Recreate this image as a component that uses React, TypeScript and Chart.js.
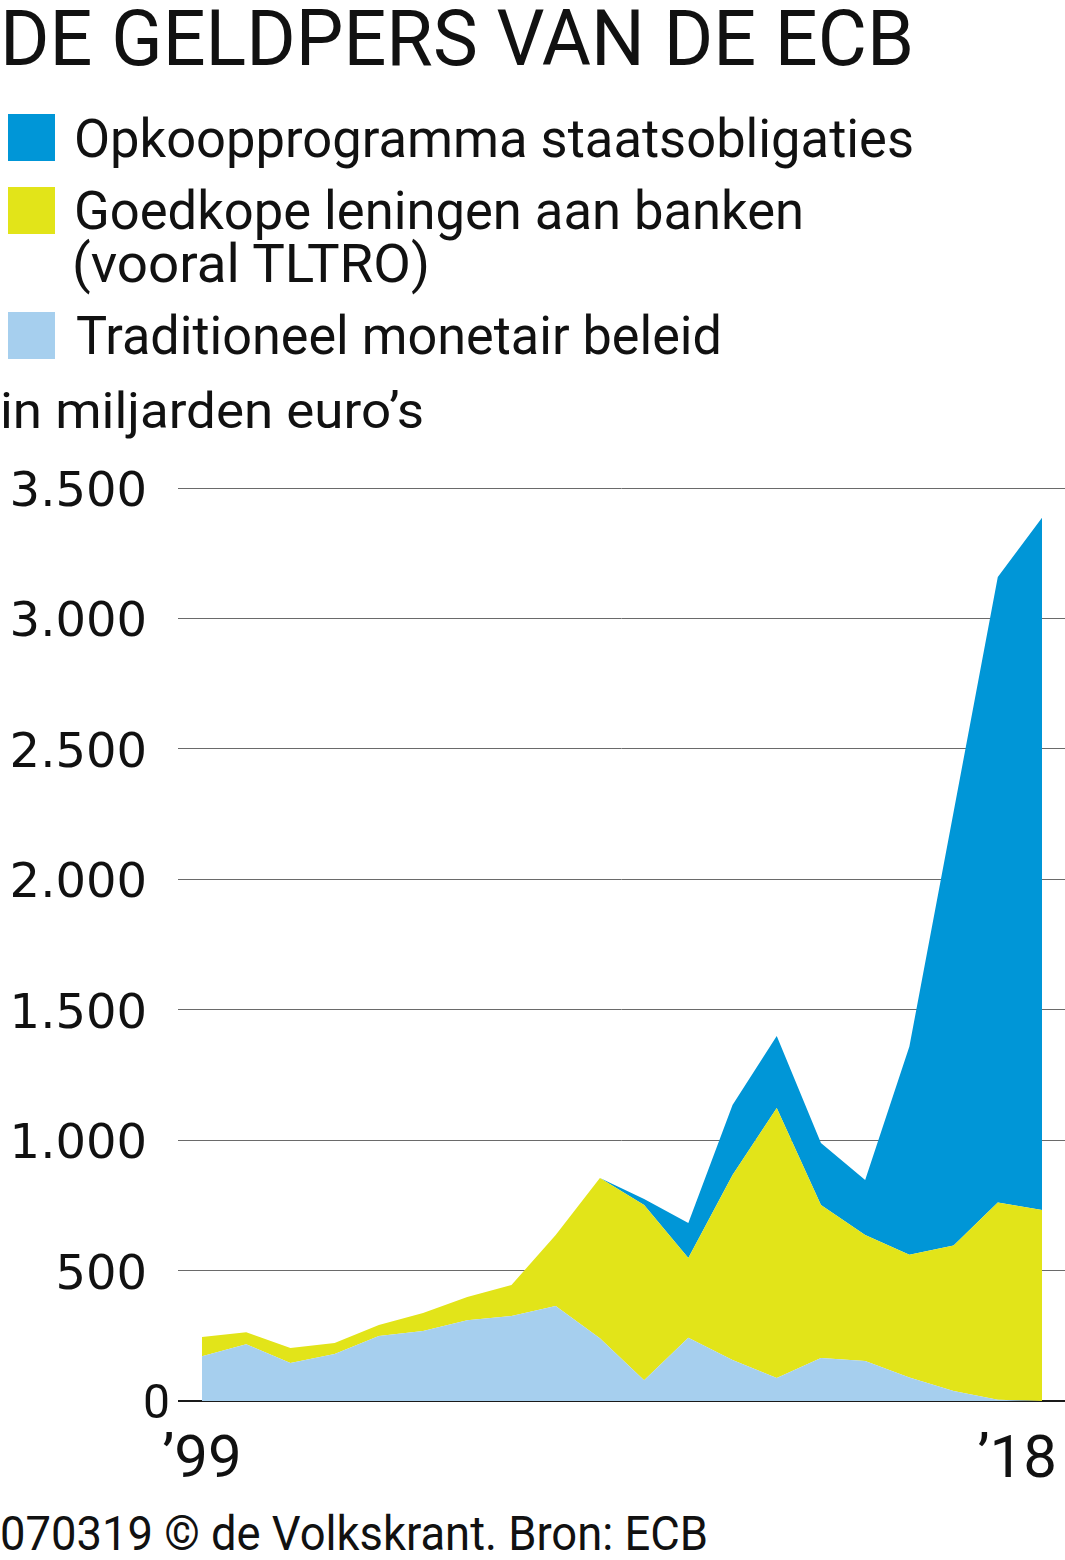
import React, { useEffect, useRef } from "react";
import { Chart, registerables } from "chart.js";

Chart.register(...registerables);

// ---- data (billions of euro) ----
const years = [1999, 2000, 2001, 2002, 2003, 2004, 2005, 2006, 2007, 2008, 2009, 2010, 2011, 2012, 2013, 2014, 2015, 2016, 2017, 2018];
const traditioneel = [172, 218, 146, 180, 249, 268, 310, 326, 364, 241, 80, 242, 157, 88, 165, 153, 90, 38, 5, 0];
const leningen = [73, 46, 57, 42, 42, 69, 89, 119, 272, 614, 671, 306, 709, 1035, 586, 483, 471, 558, 756, 732];
const opkoop = [0, 0, 0, 0, 0, 0, 0, 0, 0, 0, 23, 134, 269, 276, 238, 211, 798, 1662, 2398, 2654];
const xTickYears = [1999, 2018];
const xTickLabels = ["\u201999", "\u201918"];
const yMax = 3500;
const yStep = 500;

const seriesLabels = [
  "Opkoopprogramma staatsobligaties",
  "Goedkope leningen aan banken",
  "Traditioneel monetair beleid",
];

const DARK = "#0096d7";
const YELLOW = "#e2e419";
const LIGHT = "#a6cfee";
const TEXT = "#111111";
const COND = "Roboto, 'Liberation Sans Narrow', sans-serif";

const X_MIN = 1998.457;
const X_MAX = 2018.52;

function fmt(v: number): string {
  return String(v).replace(/\B(?=(\d{3})+(?!\d))/g, ".");
}

const labelPlugin = {
  id: "customLabels",
  afterDraw(chart: any) {
    const ctx = chart.ctx as CanvasRenderingContext2D;
    const ys = chart.scales.y;
    const xs = chart.scales.x;
    const left = chart.chartArea.left;
    const bottom = chart.chartArea.bottom;
    ctx.save();
    ctx.fillStyle = TEXT;
    ctx.textBaseline = "alphabetic";
    ys.ticks.forEach((t: any) => {
      const py = ys.getPixelForValue(t.value);
      ctx.textAlign = "right";
      if (t.value === 0) {
        ctx.font = `48px ${COND}`;
        ctx.fillText("0", left - 8, py + 17);
      } else {
        ctx.font = `48px 'DejaVu Sans'`;
        ctx.fillText(fmt(t.value), left - 31, py + 18);
      }
    });
    ctx.font = `60px ${COND}`;
    ctx.textAlign = "left";
    xTickYears.forEach((yr, i) => {
      const px = xs.getPixelForValue(yr);
      const w = ctx.measureText(xTickLabels[i]).width;
      let sx = px - w / 2;
      const maxRight = chart.width - 8;
      if (sx + w > maxRight) sx = maxRight - w;
      ctx.fillText(xTickLabels[i], sx, bottom + 76);
    });
    ctx.restore();
  },
};

export default function App() {
  const ref = useRef<HTMLCanvasElement>(null);

  useEffect(() => {
    const canvas = ref.current;
    if (!canvas) return;
    const mk = (vals: number[]) => years.map((yr, i) => ({ x: yr, y: vals[i] }));
    const chart = new Chart(canvas, {
      type: "line",
      data: {
        datasets: [
          {
            label: seriesLabels[2],
            data: mk(traditioneel),
            backgroundColor: LIGHT,
            borderColor: "rgba(0,0,0,0)",
            borderWidth: 0,
            fill: "origin",
          },
          {
            label: seriesLabels[1],
            data: mk(leningen),
            backgroundColor: YELLOW,
            borderColor: "rgba(0,0,0,0)",
            borderWidth: 0,
            fill: "-1",
          },
          {
            label: seriesLabels[0],
            data: mk(opkoop),
            backgroundColor: DARK,
            borderColor: "rgba(0,0,0,0)",
            borderWidth: 0,
            fill: "-1",
          },
        ],
      },
      options: {
        responsive: false,
        animation: false,
        devicePixelRatio: 1,
        layout: { padding: { left: 178, right: 0, top: 48, bottom: 119 } },
        plugins: {
          legend: { display: false },
          tooltip: { enabled: false },
          title: { display: false },
        },
        elements: {
          line: { tension: 0 },
          point: { radius: 0, hoverRadius: 0 },
        },
        scales: {
          x: { type: "linear", min: X_MIN, max: X_MAX, display: false },
          y: {
            stacked: true,
            min: 0,
            max: yMax,
            ticks: { display: false, stepSize: yStep },
            border: { display: false },
            grid: {
              drawTicks: false,
              color: (c: any) => (c.tick && c.tick.value === 0 ? "#1a1a1a" : "#6a6a6a"),
              lineWidth: (c: any) => (c.tick && c.tick.value === 0 ? 2 : 1),
            },
          },
        },
      },
      plugins: [labelPlugin],
    } as any);
    return () => chart.destroy();
  }, []);

  const textItems = [
    { t: "DE GELDPERS VAN DE ECB", x: 0, y: 65, size: 77, len: 914 },
    { t: seriesLabels[0], x: 74, y: 157, size: 53, len: 840 },
    { t: seriesLabels[1], x: 74, y: 229, size: 53, len: 730 },
    { t: "(vooral TLTRO)", x: 72, y: 282, size: 53, len: 358 },
    { t: seriesLabels[2], x: 76, y: 354, size: 53, len: 646 },
    { t: "in miljarden euro\u2019s", x: 0, y: 428, size: 50, len: 424 },
    { t: "070319 \u00a9 de Volkskrant. Bron: ECB", x: 0, y: 1550, size: 48, len: 708 },
  ];
  const swatches = [
    { c: DARK, y: 114 },
    { c: YELLOW, y: 187 },
    { c: LIGHT, y: 312 },
  ];

  return (
    <div style={{ position: "absolute", left: 0, top: 0, width: 1065, height: 1560, background: "#fff", overflow: "hidden" }}>
      <svg width={1065} height={1560} style={{ position: "absolute", left: 0, top: 0 }}>
        {swatches.map((s, i) => (
          <rect key={i} x={8} y={s.y} width={47} height={47} fill={s.c} />
        ))}
        {textItems.map((it, i) => (
          <text
            key={i}
            x={it.x}
            y={it.y}
            fontSize={it.size}
            fontFamily={COND}
            fill={TEXT}
            textLength={it.len}
            lengthAdjust="spacingAndGlyphs"
          >
            {it.t}
          </text>
        ))}
      </svg>
      <canvas
        ref={ref}
        width={1065}
        height={1080}
        style={{ position: "absolute", left: 0, top: 440, width: 1065, height: 1080 }}
      />
    </div>
  );
}
